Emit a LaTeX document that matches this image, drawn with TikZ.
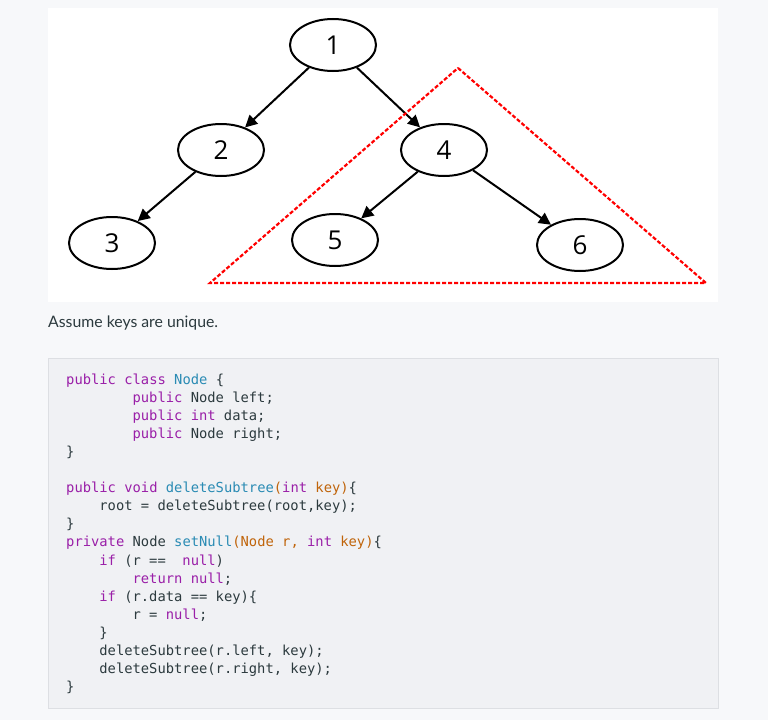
\documentclass[tikz,border=0pt]{standalone}
\usepackage{fontspec}
\setmainfont{Lato}
\setmonofont{DejaVu Sans Mono}
\usetikzlibrary{shapes.geometric,arrows.meta}
\definecolor{pagebg}{HTML}{F7F8FA}
\definecolor{codebg}{HTML}{F0F1F4}
\definecolor{codeborder}{HTML}{DDDFE3}
\definecolor{kw}{HTML}{9A1FA8}
\definecolor{fn}{HTML}{2A8BB4}
\definecolor{arg}{HTML}{C0640A}
\definecolor{txt}{HTML}{2C3A3E}
\newcommand{\K}[1]{\textcolor{kw}{#1}}
\newcommand{\F}[1]{\textcolor{fn}{#1}}
\newcommand{\A}[1]{\textcolor{arg}{#1}}
\tikzset{
  tn/.style={ellipse,draw=black,line width=2pt,fill=white,minimum width=86pt,minimum height=52pt,inner sep=0pt,font=\fontsize{26}{26}\selectfont\sffamily},
  arr/.style={line width=2pt,-{Triangle[length=12pt,width=12pt]}},
  code/.style={anchor=base west,inner sep=0pt,text=txt,font=\fontsize{13.8}{14}\selectfont\ttfamily}
}
\setsansfont{Open Sans}
\begin{document}
\begin{tikzpicture}[x=1pt,y=-1pt]
\useasboundingbox[fill=pagebg] (0,0) rectangle (768,720);
\fill[white] (48,8) rectangle (718,302);
\node[tn] (n1) at (333,45) {1};
\node[tn] (n2) at (221,150) {2};
\node[tn] (n3) at (112,243) {3};
\node[tn] (n4) at (444,150) {4};
\node[tn] (n5) at (335,240) {5};
\node[tn] (n6) at (580,245) {6};
\draw[arr] (n1) -- (n2);
\draw[arr] (n1) -- (n4);
\draw[arr] (n2) -- (n3);
\draw[arr] (n4) -- (n5);
\draw[arr] (n4) -- (n6);
\coordinate (ta) at (458,68);
\coordinate (tl) at (210,283);
\coordinate (tr) at (706,283);
\draw[red,line width=2.2pt,dash pattern=on 4pt off 2pt] (ta) -- (tr) -- (tl) -- cycle;
\node[anchor=base west,inner sep=0pt,text=txt,font=\fontsize{15.8}{17}\selectfont] (note) at (48,327) {Assume keys are unique.};
\draw[codeborder,fill=codebg] (48,358) rectangle (718,708);
\newcommand{\cl}[3]{\node[code] at ({66+#1*8.3},{384+#2*18.1}) {#3};}
\cl{0}{0}{\K{public} \K{class} \F{Node} \{}
\cl{8}{1}{\K{public} Node left;}
\cl{8}{2}{\K{public} \K{int} data;}
\cl{8}{3}{\K{public} Node right;}
\cl{0}{4}{\}}
\cl{0}{6}{\K{public} \K{void} \F{deleteSubtree}\A{(}\K{int} \A{key)}\{}
\cl{4}{7}{root = deleteSubtree(root,key);}
\cl{0}{8}{\}}
\cl{0}{9}{\K{private} Node \F{setNull}\A{(Node r, }\K{int} \A{key)}\{}
\cl{4}{10}{\K{if} (r ==\ \ \K{null})}
\cl{8}{11}{\K{return} \K{null};}
\cl{4}{12}{\K{if} (r.data == key)\{}
\cl{8}{13}{r = \K{null};}
\cl{4}{14}{\}}
\cl{4}{15}{deleteSubtree(r.left, key);}
\cl{4}{16}{deleteSubtree(r.right, key);}
\cl{0}{17}{\}}
\end{tikzpicture}
\end{document}
